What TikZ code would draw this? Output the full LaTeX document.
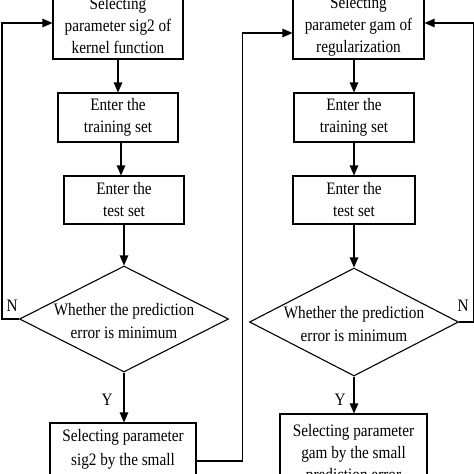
\documentclass[tikz,border=0pt]{standalone}
\usepackage{fontspec}
\setmainfont{Liberation Serif}[FakeStretch=0.87]
\usetikzlibrary{shapes.geometric,arrows.meta}
\tikzset{
  box/.style={draw, line width=1.1pt, rectangle, inner sep=0pt, align=center, font=\fontsize{17.5}{22}\selectfont},
  dia/.style={draw, line width=1.1pt, diamond, inner sep=0pt},
  txt/.style={align=center, inner sep=0pt, font=\fontsize{17.5}{23.5}\selectfont},
  lbl/.style={inner sep=0pt, font=\fontsize{17.5}{22}\selectfont},
  arr/.style={line width=1.1pt, -{Triangle[length=10pt,width=8.5pt]}}
}
\begin{document}
\begin{tikzpicture}[x=1pt,y=-1pt]
\useasboundingbox (0,0) rectangle (474,474);
\clip (0,0) rectangle (474,474);
% left column
\node[box, minimum width=130pt, minimum height=66pt] (b1) at (118,26) {Selecting\\parameter sig2 of\\kernel function};
\node[box, minimum width=120pt, minimum height=49pt] (b2) at (118,117.5) {Enter the\\training set};
\node[box, minimum width=120pt, minimum height=48pt] (b3) at (124,200) {Enter the\\test set};
\node[dia, minimum width=209pt, minimum height=106pt] (d1) at (124,319) {};
\node[txt] (t1) at (124,321) {Whether the prediction\\error is minimum};
\node[box, minimum width=146pt, minimum height=80pt] (b4) at (123,463) {};
\node[txt, anchor=north] (t4) at ([yshift=-7pt]b4.north) {Selecting parameter\\sig2 by the small};
% right column
\node[box, minimum width=131pt, minimum height=66pt] (b5) at (358.5,26) {Selecting\\parameter gam of\\regularization};
\node[box, minimum width=120pt, minimum height=49pt] (b6) at (354,117.5) {Enter the\\training set};
\node[box, minimum width=122pt, minimum height=48pt] (b7) at (354,200) {Enter the\\test set};
\node[dia, minimum width=209pt, minimum height=108pt] (d2) at (354,322) {};
\node[txt] (t2) at (354,324) {Whether the prediction\\error is minimum};
\node[box, minimum width=147pt, minimum height=80pt] (b8) at (353.5,454) {Selecting parameter\\gam by the small\\prediction error};
% labels
\node[lbl] (n1) at (12,306) {N};
\node[lbl] (n2) at (463,306) {N};
\node[lbl] (y1) at (107,400) {Y};
\node[lbl] (y2) at (340,400) {Y};
% connectors left
\draw[arr] (b1.south) -- (b2.north);
\draw[arr] ([xshift=3pt]b2.south) -- ([xshift=-3pt]b3.north);
\draw[arr] (b3.south) -- (d1.north);
\draw[arr] (d1.south) -- (d1.south |- b4.north);
\draw[arr] (d1.west) -- ++(-17,0) |- ([yshift=3pt]b1.west);
% connectors right
\draw[arr] (b6.north |- b5.south) -- (b6.north);
\draw[arr] (b6.south) -- (b7.north);
\draw[arr] (b7.south) -- (d2.north);
\draw[arr] (d2.south) -- (d2.south |- b8.north);
\draw[arr] (d2.east) -- ++(14,0) |- ([yshift=3pt]b5.east);
% cross connector
\draw[arr] ([yshift=2pt]b4.east) -- ++(46,0) |- ([yshift=-7pt]b5.west);
\end{tikzpicture}
\end{document}
